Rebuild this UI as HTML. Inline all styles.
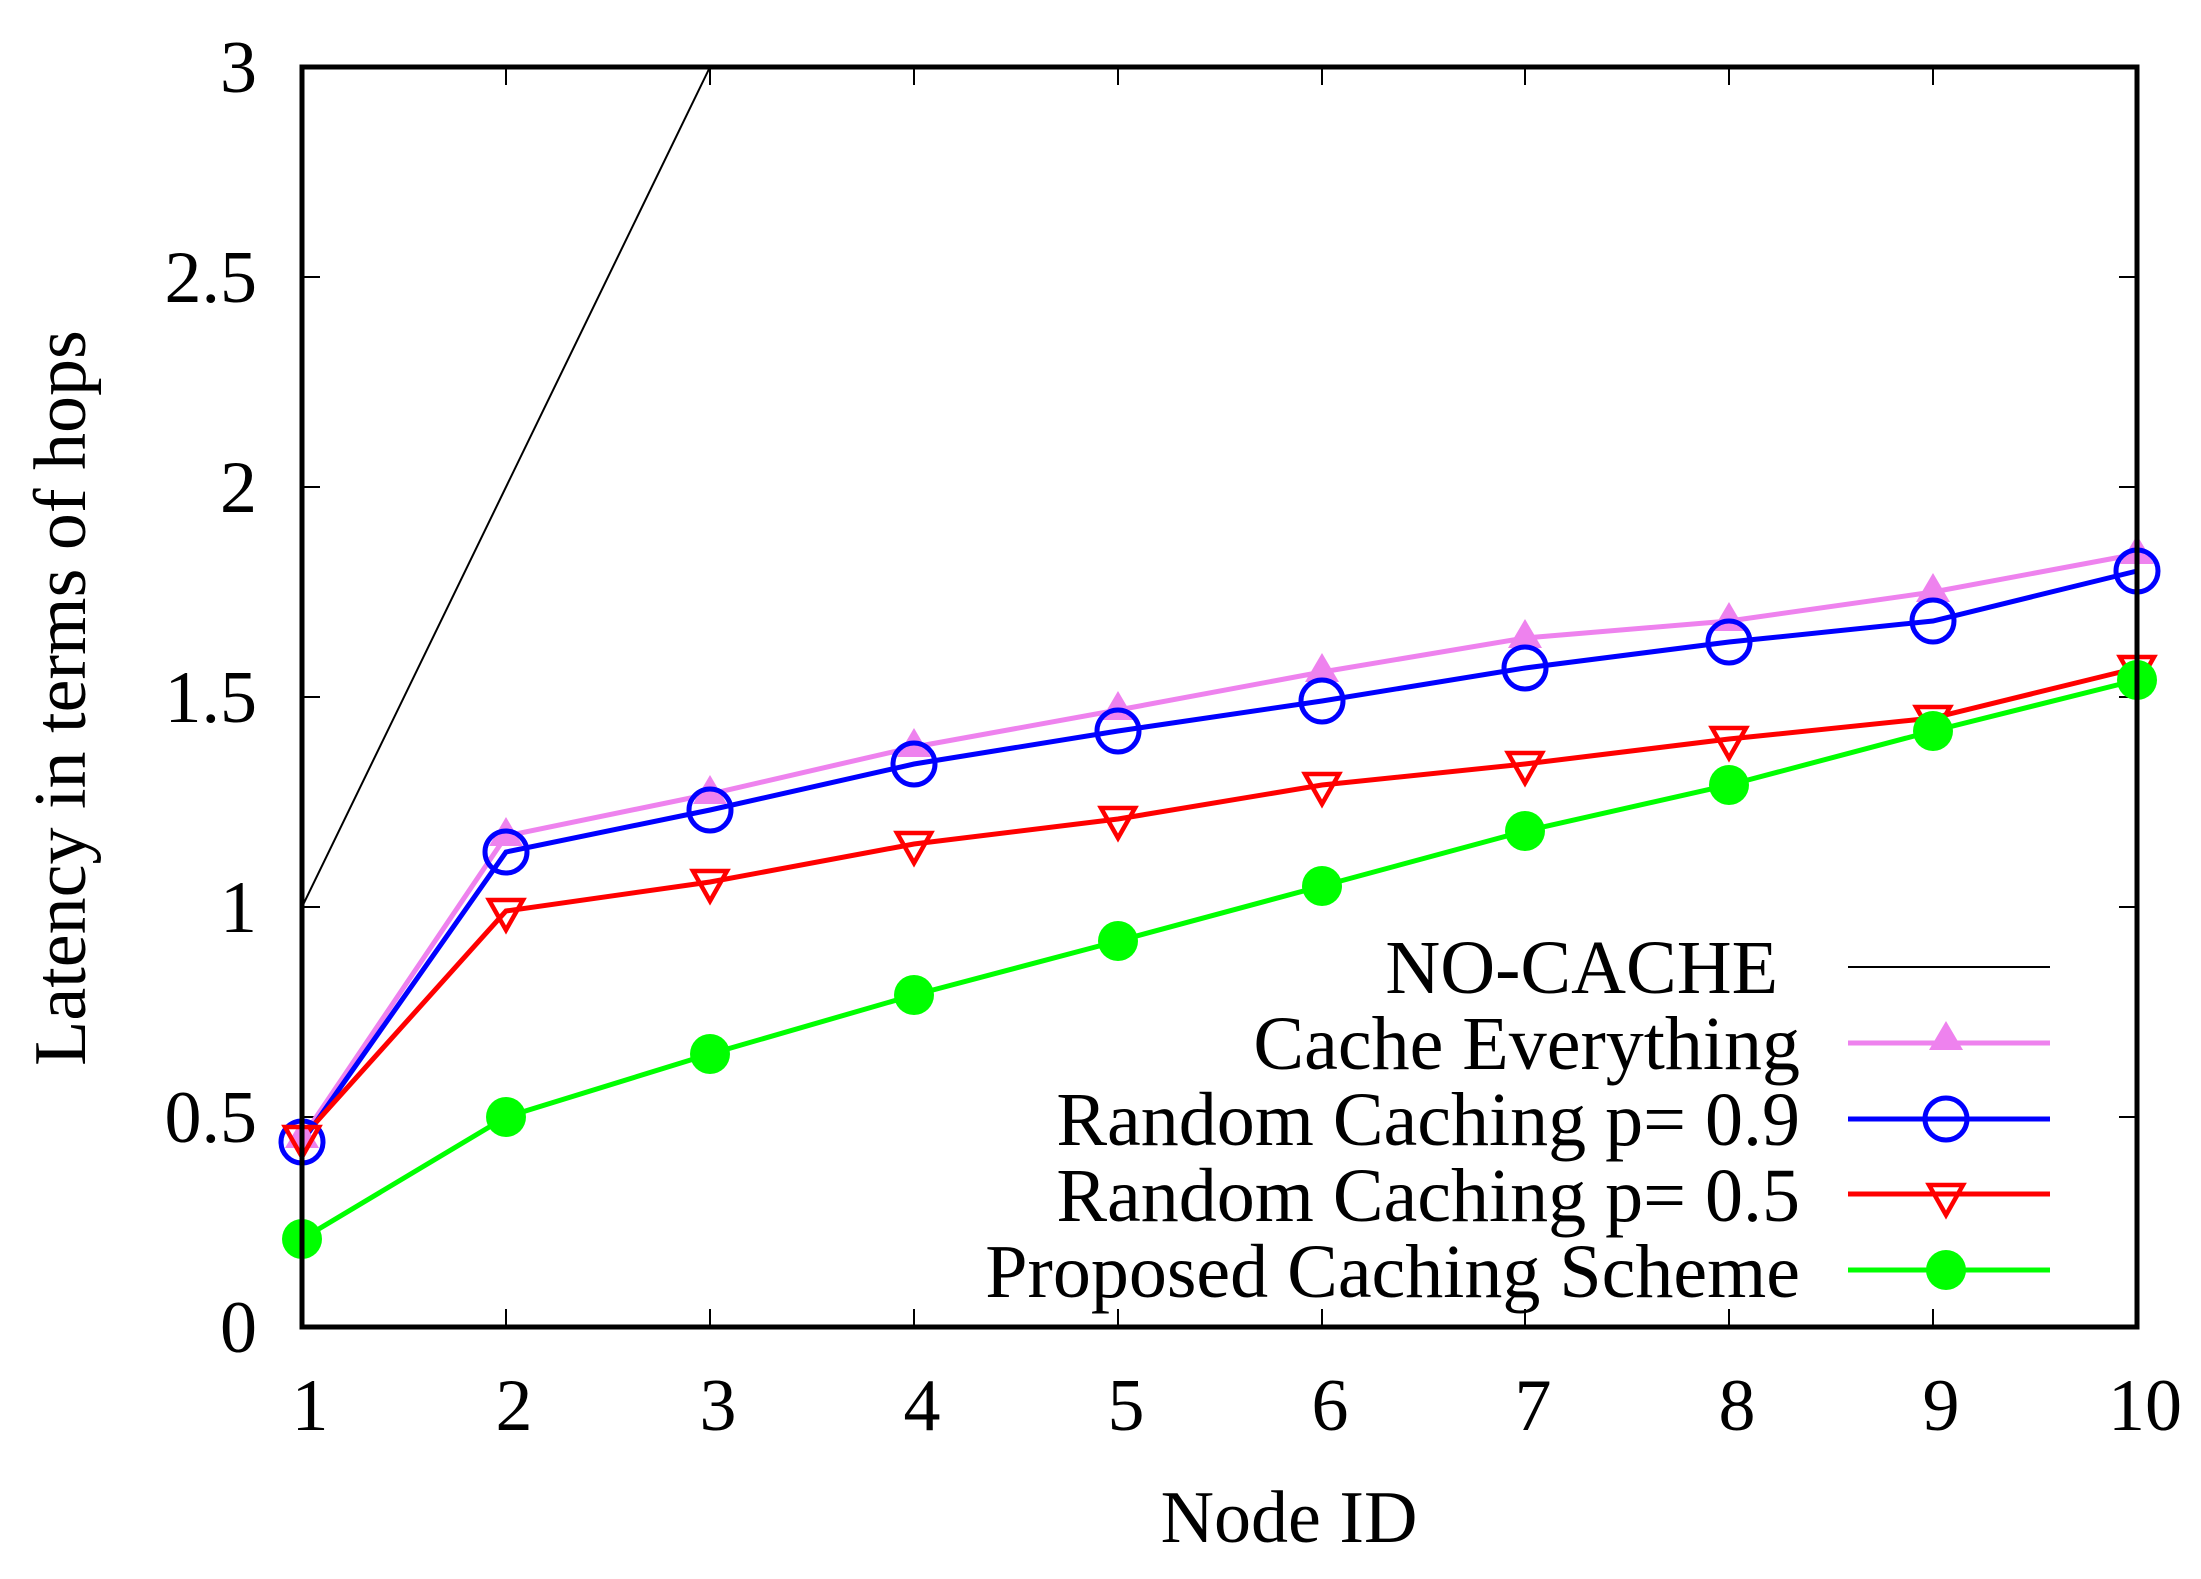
<!DOCTYPE html>
<html><head><meta charset="utf-8"><style>html,body{margin:0;padding:0;background:#fff}</style></head>
<body>
<svg width="2201" height="1574" viewBox="0 0 2201 1574" xmlns="http://www.w3.org/2000/svg" font-family="'Liberation Serif',serif" font-size="74">
<defs>
<path id="tu" d="M0,-19 L17,10 L-17,10 Z" fill="#ee82ee"/>
<circle id="co" r="21" fill="none" stroke="#0000ff" stroke-width="5"/>
<path id="td" d="M-17,-11 L17,-11 L0,19 Z" fill="none" stroke="#ff0000" stroke-width="4.5"/>
<circle id="cf" r="20" fill="#00ff00"/>
</defs>
<g stroke="#000" stroke-width="2">
<line x1="302" y1="1327" x2="320" y2="1327"/><line x1="302" y1="1117" x2="320" y2="1117"/><line x1="302" y1="907" x2="320" y2="907"/><line x1="302" y1="697" x2="320" y2="697"/><line x1="302" y1="487" x2="320" y2="487"/><line x1="302" y1="277" x2="320" y2="277"/>
<line x1="2137" y1="1117" x2="2119" y2="1117"/><line x1="2137" y1="907" x2="2119" y2="907"/><line x1="2137" y1="697" x2="2119" y2="697"/><line x1="2137" y1="487" x2="2119" y2="487"/><line x1="2137" y1="277" x2="2119" y2="277"/>
<line x1="506" y1="1327" x2="506" y2="1309"/><line x1="710" y1="1327" x2="710" y2="1309"/><line x1="914" y1="1327" x2="914" y2="1309"/><line x1="1118" y1="1327" x2="1118" y2="1309"/><line x1="1322" y1="1327" x2="1322" y2="1309"/><line x1="1525" y1="1327" x2="1525" y2="1309"/><line x1="1729" y1="1327" x2="1729" y2="1309"/><line x1="1933" y1="1327" x2="1933" y2="1309"/>
<line x1="506" y1="67" x2="506" y2="85"/><line x1="710" y1="67" x2="710" y2="85"/><line x1="914" y1="67" x2="914" y2="85"/><line x1="1118" y1="67" x2="1118" y2="85"/><line x1="1322" y1="67" x2="1322" y2="85"/><line x1="1525" y1="67" x2="1525" y2="85"/><line x1="1729" y1="67" x2="1729" y2="85"/><line x1="1933" y1="67" x2="1933" y2="85"/>
</g>
<g text-anchor="end">
<text x="257" y="1352">0</text><text x="257" y="1142">0.5</text><text x="257" y="932">1</text><text x="257" y="722">1.5</text><text x="257" y="512">2</text><text x="257" y="302">2.5</text><text x="257" y="92">3</text>
</g>
<g text-anchor="middle">
<text x="310" y="1430">1</text><text x="514" y="1430">2</text><text x="718" y="1430">3</text><text x="922" y="1430">4</text><text x="1126" y="1430">5</text><text x="1330" y="1430">6</text><text x="1533" y="1430">7</text><text x="1737" y="1430">8</text><text x="1941" y="1430">9</text><text x="2145" y="1430">10</text>
<text x="1289" y="1542">Node ID</text>
<text transform="translate(85,698) rotate(-90)">Latency in terms of hops</text>
</g>
<polyline points="302,907 710,67" fill="none" stroke="#000" stroke-width="2"/>
<polyline points="302,1138 506,836 710,794 914,747 1118,710 1322,672 1525,638 1729,621 1933,592 2137,554" fill="none" stroke="#ee82ee" stroke-width="5"/>
<polyline points="302,1142 506,852 710,810 914,764 1118,731 1322,701 1525,668 1729,642 1933,621 2137,571" fill="none" stroke="#0000ff" stroke-width="5"/>
<polyline points="302,1138 506,911 710,882 914,844 1118,819 1322,785 1525,764 1729,739 1933,718 2137,668" fill="none" stroke="#ff0000" stroke-width="5"/>
<polyline points="302,1239 506,1117 710,1054 914,995 1118,941 1322,886 1525,831 1729,785 1933,731 2137,680" fill="none" stroke="#00ff00" stroke-width="5"/>
<g>
<use href="#tu" x="302" y="1138"/><use href="#tu" x="506" y="836"/><use href="#tu" x="710" y="794"/><use href="#tu" x="914" y="747"/><use href="#tu" x="1118" y="710"/><use href="#tu" x="1322" y="672"/><use href="#tu" x="1525" y="638"/><use href="#tu" x="1729" y="621"/><use href="#tu" x="1933" y="592"/><use href="#tu" x="2137" y="554"/>
<use href="#co" x="302" y="1142"/><use href="#co" x="506" y="852"/><use href="#co" x="710" y="810"/><use href="#co" x="914" y="764"/><use href="#co" x="1118" y="731"/><use href="#co" x="1322" y="701"/><use href="#co" x="1525" y="668"/><use href="#co" x="1729" y="642"/><use href="#co" x="1933" y="621"/><use href="#co" x="2137" y="571"/>
<use href="#td" x="302" y="1138"/><use href="#td" x="506" y="911"/><use href="#td" x="710" y="882"/><use href="#td" x="914" y="844"/><use href="#td" x="1118" y="819"/><use href="#td" x="1322" y="785"/><use href="#td" x="1525" y="764"/><use href="#td" x="1729" y="739"/><use href="#td" x="1933" y="718"/><use href="#td" x="2137" y="668"/>
<use href="#cf" x="302" y="1239"/><use href="#cf" x="506" y="1117"/><use href="#cf" x="710" y="1054"/><use href="#cf" x="914" y="995"/><use href="#cf" x="1118" y="941"/><use href="#cf" x="1322" y="886"/><use href="#cf" x="1525" y="831"/><use href="#cf" x="1729" y="785"/><use href="#cf" x="1933" y="731"/><use href="#cf" x="2137" y="680"/>
</g>
<g text-anchor="end" font-size="76">
<text x="1778" y="993">NO-CACHE</text>
<text x="1800" y="1069">Cache Everything</text>
<text x="1800" y="1145">Random Caching p= 0.9</text>
<text x="1800" y="1221">Random Caching p= 0.5</text>
<text x="1800" y="1297">Proposed Caching Scheme</text>
</g>
<line x1="1848" y1="967" x2="2050" y2="967" stroke="#000" stroke-width="2"/>
<line x1="1848" y1="1043" x2="2050" y2="1043" stroke="#ee82ee" stroke-width="5"/><use href="#tu" x="1946" y="1040"/>
<line x1="1848" y1="1119" x2="2050" y2="1119" stroke="#0000ff" stroke-width="5"/><use href="#co" x="1946" y="1119"/>
<line x1="1848" y1="1194" x2="2050" y2="1194" stroke="#ff0000" stroke-width="5"/><use href="#td" x="1946" y="1196"/>
<line x1="1848" y1="1270" x2="2050" y2="1270" stroke="#00ff00" stroke-width="5"/><use href="#cf" x="1946" y="1270"/>
<rect x="302" y="67" width="1835" height="1260" fill="none" stroke="#000" stroke-width="5"/>
</svg>
</body></html>
